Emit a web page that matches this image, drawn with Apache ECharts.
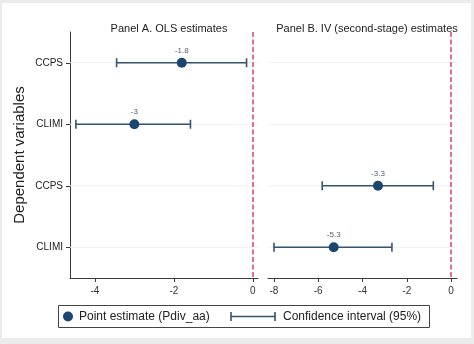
<!DOCTYPE html>
<html>
<head>
<meta charset="utf-8">
<script src="https://cdn.jsdelivr.net/npm/echarts@6/dist/echarts.min.js"></script>
<style>
  html, body { margin: 0; padding: 0; background: #ececec; }
  #frame { position: relative; width: 474px; height: 344px; background: #ececec; overflow: hidden; }
  #paper { position: absolute; left: 2px; top: 3px; width: 469px; height: 335px; background: #ffffff; }
  #chart { position: absolute; left: 0; top: 0; width: 474px; height: 344px; }
</style>
</head>
<body>
<div id="frame">
  <div id="paper"></div>
  <div id="chart"></div>
</div>
<script>
// Dependent variables, top to bottom (rows 0-1: OLS panel, rows 2-3: IV panel)
const categories = ['CCPS', 'CLIMI', 'CCPS', 'CLIMI'];

// Panel A: OLS estimates with 95% confidence bounds
const olsRows = [0, 1];
const olsEstimate = [-1.8, -3];
const olsLower = [-3.45, -4.48];
const olsUpper = [-0.16, -1.58];

// Panel B: IV (second-stage) estimates with 95% confidence bounds
const ivRows = [2, 3];
const ivEstimate = [-3.3, -5.3];
const ivLower = [-5.82, -8.0];
const ivUpper = [-0.80, -2.67];

// Tick labels on the two horizontal axes
const panelATicks = [-4, -2, 0];
const panelBTicks = [-8, -6, -4, -2, 0];

const panelTitles = ['Panel A. OLS estimates', 'Panel B. IV (second-stage) estimates'];
const yTitle = 'Dependent variables';
const legendPoint = 'Point estimate (Pdiv_aa)';
const legendCI = 'Confidence interval (95%)';

const FONT = '"Liberation Sans", Arial, Helvetica, sans-serif';
const POINT_COLOR = '#1b4670';
const CI_COLOR = '#34536f';
const REF_COLOR = '#d8436f';
const AXIS_COLOR = '#3a3a3a';
const GRID_COLOR = '#f1f1f1';

const chart = echarts.init(document.getElementById('chart'), null, { renderer: 'canvas' });

function xAxisFor(gridIndex, min, max, ticks) {
  return {
    type: 'value', gridIndex, min, max,
    axisLine: { show: true, onZero: false, lineStyle: { color: AXIS_COLOR, width: 1 } },
    axisTick: { show: true, length: 4, customValues: ticks, lineStyle: { color: AXIS_COLOR } },
    axisLabel: { show: true, customValues: ticks, margin: 8, fontSize: 10, color: '#333', fontFamily: FONT },
    splitLine: { show: false }
  };
}

function yAxisFor(gridIndex, visible) {
  return {
    type: 'category', gridIndex, data: categories, inverse: true,
    axisLine: { show: visible, onZero: false, lineStyle: { color: AXIS_COLOR, width: 1 } },
    axisTick: { show: visible, alignWithLabel: true, length: 4, lineStyle: { color: AXIS_COLOR } },
    axisLabel: { show: visible, margin: 7, fontSize: 10, color: '#222', fontFamily: FONT },
    splitLine: { show: false }
  };
}

// Faint horizontal guide at each category row, spanning the plot width
function gridLineSeries(idx) {
  return {
    type: 'custom', xAxisIndex: idx, yAxisIndex: idx, silent: true, z: 1,
    data: categories.map((c, i) => [0, i]),
    encode: { x: 0, y: 1 },
    renderItem(params, api) {
      const cs = params.coordSys;
      const y = api.coord([0, api.value(1)])[1];
      return {
        type: 'line',
        shape: { x1: cs.x, y1: y, x2: cs.x + cs.width, y2: y },
        style: { stroke: GRID_COLOR, lineWidth: 1 }
      };
    }
  };
}

// Horizontal interval with end caps
function ciSeries(idx, rows, lower, upper) {
  return {
    type: 'custom', name: legendCI, xAxisIndex: idx, yAxisIndex: idx, z: 3,
    data: rows.map((r, i) => [lower[i], upper[i], r]),
    encode: { x: [0, 1], y: 2 },
    renderItem(params, api) {
      const lo = api.coord([api.value(0), api.value(2)]);
      const hi = api.coord([api.value(1), api.value(2)]);
      const cap = 4.5;
      const style = { stroke: CI_COLOR, lineWidth: 1.6 };
      return {
        type: 'group',
        children: [
          { type: 'line', shape: { x1: lo[0], y1: lo[1], x2: hi[0], y2: hi[1] }, style },
          { type: 'line', shape: { x1: lo[0], y1: lo[1] - cap, x2: lo[0], y2: lo[1] + cap }, style },
          { type: 'line', shape: { x1: hi[0], y1: hi[1] - cap, x2: hi[0], y2: hi[1] + cap }, style }
        ]
      };
    }
  };
}

function pointSeries(idx, rows, est) {
  return {
    type: 'scatter', name: legendPoint, xAxisIndex: idx, yAxisIndex: idx, z: 4,
    symbol: 'circle', symbolSize: 10,
    itemStyle: { color: POINT_COLOR, opacity: 1 },
    data: rows.map((r, i) => [est[i], r]),
    label: {
      show: true, position: 'top', distance: 3,
      fontSize: 8, color: '#4e5f70', fontFamily: FONT,
      formatter: p => String(p.value[0])
    },
    markLine: {
      silent: true, symbol: 'none', animation: false,
      label: { show: false },
      lineStyle: { color: REF_COLOR, type: [5, 2.5], width: 1.5 },
      data: [{ xAxis: 0 }]
    }
  };
}

const option = {
  animation: false,
  backgroundColor: 'transparent',
  textStyle: { fontFamily: FONT },
  grid: [
    { left: 70, top: 32, width: 188, height: 246 },
    { left: 268, top: 32, width: 189, height: 246 }
  ],
  title: [
    { text: panelTitles[0], left: 164, top: 18, textAlign: 'center',
      textStyle: { fontSize: 11, fontWeight: 'normal', color: '#222', fontFamily: FONT } },
    { text: panelTitles[1], left: 362, top: 18, textAlign: 'center',
      textStyle: { fontSize: 11, fontWeight: 'normal', color: '#222', fontFamily: FONT } }
  ],
  xAxis: [
    xAxisFor(0, -4.63, 0.13, panelATicks),
    xAxisFor(1, -8.27, 0.27, panelBTicks)
  ],
  yAxis: [yAxisFor(0, true), yAxisFor(1, false)],
  series: [
    gridLineSeries(0),
    gridLineSeries(1),
    ciSeries(0, olsRows, olsLower, olsUpper),
    ciSeries(1, ivRows, ivLower, ivUpper),
    pointSeries(0, olsRows, olsEstimate),
    pointSeries(1, ivRows, ivEstimate)
  ],
  graphic: [
    {
      type: 'text', x: 20, y: 155, rotation: Math.PI / 2,
      style: { text: yTitle, fontSize: 15, fill: '#222', font: '15px ' + FONT,
               align: 'center', verticalAlign: 'middle' }
    },
    // legend box
    {
      type: 'rect', shape: { x: 58.5, y: 305.5, width: 371, height: 22 },
      style: { fill: '#ffffff', stroke: '#444', lineWidth: 1 }
    },
    {
      type: 'circle', shape: { cx: 68, cy: 316.5, r: 5 },
      style: { fill: POINT_COLOR }
    },
    {
      type: 'text', x: 79, y: 316.5,
      style: { text: legendPoint, font: '12px ' + FONT, fill: '#222', verticalAlign: 'middle' }
    },
    {
      type: 'group',
      children: [
        { type: 'line', shape: { x1: 231, y1: 316.5, x2: 275, y2: 316.5 }, style: { stroke: CI_COLOR, lineWidth: 1.6 } },
        { type: 'line', shape: { x1: 231, y1: 312, x2: 231, y2: 321 }, style: { stroke: CI_COLOR, lineWidth: 1.6 } },
        { type: 'line', shape: { x1: 275, y1: 312, x2: 275, y2: 321 }, style: { stroke: CI_COLOR, lineWidth: 1.6 } }
      ]
    },
    {
      type: 'text', x: 283, y: 316.5,
      style: { text: legendCI, font: '12px ' + FONT, fill: '#222', verticalAlign: 'middle' }
    }
  ]
};

chart.setOption(option);
</script>
</body>
</html>
